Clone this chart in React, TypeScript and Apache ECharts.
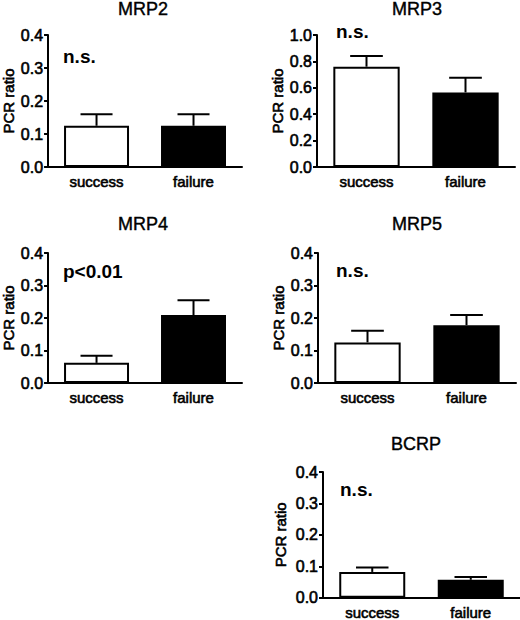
import React, { useEffect, useRef } from "react";
import * as echarts from "echarts";

const categories = ["success", "failure"];
const panelTitles = ["MRP2", "MRP3", "MRP4", "MRP5", "BCRP"];
const successMean = [0.125, 0.76, 0.062, 0.125, 0.082];
const successErr = [0.035, 0.08, 0.022, 0.036, 0.014];
const failureMean = [0.125, 0.565, 0.209, 0.178, 0.057];
const failureErr = [0.035, 0.112, 0.046, 0.031, 0.009];
const yMax = [0.4, 1.0, 0.4, 0.4, 0.4];
const yInterval = [0.1, 0.2, 0.1, 0.1, 0.1];
const annotations = ["n.s.", "n.s.", "p<0.01", "n.s.", "n.s."];

// layout (pixels)
const gridBoxes = [
  { left: 42, top: 35, width: 200, height: 132 },
  { left: 317, top: 35, width: 198, height: 132 },
  { left: 42, top: 253, width: 200, height: 130 },
  { left: 318, top: 253, width: 198, height: 130 },
  { left: 323, top: 472, width: 197, height: 129 },
];
const titlePos = [
  [143, 9],
  [417, 9],
  [143, 224],
  [417, 224],
  [416, 444],
];
const annotPos = [
  [63, 56],
  [336, 31],
  [63, 271],
  [336, 270],
  [340, 489],
];

const FONT = "'Liberation Sans', Arial, Helvetica, sans-serif";
const HEAVY = { textBorderColor: "#000", textBorderWidth: 0.6 };

export default function App() {
  const ref = useRef<HTMLDivElement>(null);
  useEffect(() => {
    document.body.style.margin = "0";
    const chart = echarts.init(ref.current!, null, { renderer: "svg" });
    const grids: any[] = [];
    const xAxes: any[] = [];
    const yAxes: any[] = [];
    const series: any[] = [];
    const graphics: any[] = [];
    for (let i = 0; i < panelTitles.length; i++) {
      grids.push({ ...gridBoxes[i], containLabel: false });
      xAxes.push({
        type: "category",
        gridIndex: i,
        data: categories,
        axisLine: { lineStyle: { color: "#000", width: 2 } },
        axisTick: { alignWithLabel: true, length: 4, lineStyle: { color: "#000", width: 2 } },
        axisLabel: { color: "#000", fontSize: 15, fontFamily: FONT, margin: 7, ...HEAVY },
      });
      yAxes.push({
        type: "value",
        gridIndex: i,
        min: 0,
        max: yMax[i],
        interval: yInterval[i],
        axisLine: { show: true, lineStyle: { color: "#000", width: 2 } },
        axisTick: { show: true, length: 4, lineStyle: { color: "#000", width: 2 } },
        splitLine: { show: false },
        axisLabel: {
          color: "#000",
          fontSize: 16,
          fontFamily: FONT,
          margin: 5,
          formatter: (v: number) => v.toFixed(1),
          ...HEAVY,
        },
        name: "PCR ratio",
        nameLocation: "middle",
        nameGap: i === 4 ? 35 : 29,
        nameTextStyle: { color: "#000", fontSize: 15, fontFamily: FONT, ...HEAVY },
      });
      series.push({
        type: "bar",
        xAxisIndex: i,
        yAxisIndex: i,
        barWidth: "67%",
        data: [
          { value: successMean[i], itemStyle: { color: "#fff" } },
          { value: failureMean[i], itemStyle: { color: "#000" } },
        ],
        itemStyle: { borderColor: "#000", borderWidth: 2 },
        z: 2,
      });
      series.push({
        type: "custom",
        xAxisIndex: i,
        yAxisIndex: i,
        z: 3,
        encode: { x: 0, y: 1 },
        data: [
          [0, successMean[i], successErr[i]],
          [1, failureMean[i], failureErr[i]],
        ],
        renderItem: (params: any, api: any) => {
          const x = api.value(0);
          const m = api.value(1);
          const e = api.value(2);
          const p0 = api.coord([x, m]);
          const p1 = api.coord([x, m + e]);
          const h = api.size([1, 0])[0] * 0.165;
          return {
            type: "group",
            children: [
              {
                type: "line",
                shape: { x1: p0[0], y1: p0[1], x2: p1[0], y2: p1[1] },
                style: { stroke: "#000", lineWidth: 2 },
              },
              {
                type: "line",
                shape: { x1: p1[0] - h, y1: p1[1], x2: p1[0] + h, y2: p1[1] },
                style: { stroke: "#000", lineWidth: 2 },
              },
            ],
          };
        },
      });
      graphics.push({
        type: "text",
        x: titlePos[i][0],
        y: titlePos[i][1],
        style: {
          text: panelTitles[i],
          fill: "#000",
          font: `18px ${FONT}`,
          textAlign: "center",
          textVerticalAlign: "middle",
          stroke: "#000",
          lineWidth: 0.4,
        },
      });
      graphics.push({
        type: "text",
        x: annotPos[i][0],
        y: annotPos[i][1],
        style: {
          text: annotations[i],
          fill: "#000",
          font: `bold 19px ${FONT}`,
          textAlign: "left",
          textVerticalAlign: "middle",
        },
      });
    }
    chart.setOption({
      animation: false,
      backgroundColor: "#fff",
      textStyle: { fontFamily: FONT },
      grid: grids,
      xAxis: xAxes,
      yAxis: yAxes,
      series,
      graphic: graphics,
    });
    return () => chart.dispose();
  }, []);
  return <div ref={ref} style={{ width: 520, height: 620 }} />;
}
